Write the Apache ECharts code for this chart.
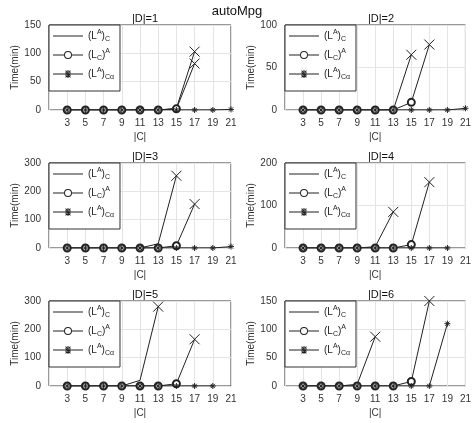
<!DOCTYPE html>
<html>
<head>
    <meta charset="utf-8">
    <title>autoMpg</title>
    <script src="https://cdn.jsdelivr.net/npm/echarts@6/dist/echarts.min.js"></script>
</head>
<body style="margin:0">
    <div id="main" style="width: 474px;height:423px;"></div>
    <script type="text/javascript">
        var dom = document.getElementById('main');
        var myChart = echarts.init(dom);

        // |C| values
        var cVals = [3, 5, 7, 9, 11, 13, 15, 17, 19, 21];
        var panelTitles = ['|D|=1', '|D|=2', '|D|=3', '|D|=4', '|D|=5', '|D|=6'];
        var yMax = [150, 100, 300, 200, 300, 150];
        var yStep = [50, 50, 100, 100, 100, 50];

        // (L^A)_C
        var s1 = [
            [0, 0, 0, 0, 0, 0, 3, 103],
            [0, 0, 0, 0, 0, 0, 65],
            [0, 0, 0, 0, 0, 15, 255],
            [0, 0, 0, 0, 3, 85],
            [0, 0, 0, 0, 20, 280],
            [0, 0, 0, 3, 87]
        ];
        // (L_C)^A
        var s2 = [
            [0, 0, 0, 0, 0, 0, 2, 82],
            [0, 0, 0, 0, 0, 0, 9, 77],
            [0, 0, 0, 0, 0, 0, 8, 155],
            [0, 0, 0, 0, 0, 0, 8, 155],
            [0, 0, 0, 0, 0, 0, 8, 165],
            [0, 0, 0, 0, 0, 0, 8, 150]
        ];
        // (L^A)_Ca
        var s3 = [
            [0, 0, 0, 0, 0, 0, 0, 0, 0, 1],
            [0, 0, 0, 0, 0, 0, 0, 0, 0, 2],
            [0, 0, 0, 0, 0, 0, 0, 0, 0, 5],
            [0, 0, 0, 0, 0, 0, 0, 0, 0],
            [0, 0, 0, 0, 0, 0, 0, 0, 0],
            [0, 0, 0, 0, 0, 0, 0, 0, 110]
        ];

        var ink = '#222';
        var crossPath = 'path://M-10,-10L10,10M-10,10L10,-10';
        var starPath = 'path://M0,-10L0,10M-10,0L10,0M-7,-7L7,7M-7,7L7,-7';
        var names = ['LAC', 'LCA', 'LACa'];
        var labels = {
            LAC: '(L{sup|A}){sub|C}',
            LCA: '(L{sub|C}){sup|A}',
            LACa: '(L{sup|A}){sub|Cα}'
        };
        var icons = {
            LAC: 'path://M0,4.5h30v1h-30z',
            LCA: 'path://M0,4.5h11v1h-11z M19,4.5h11v1h-11z M15,1a4,4 0 1,1 0,8a4,4 0 1,1 0,-8z M15,2a3,3 0 1,0 0,6a3,3 0 1,0 0,-6z',
            LACa: 'path://M0,4.5h30v1h-30z M14.5,1h1v8h-1z M12.2,2l0.7,-0.7l4.9,4.9l-0.7,0.7z M17.8,2l-0.7,-0.7l-4.9,4.9l0.7,0.7z M12.2,8l0.7,0.7l4.9,-4.9l-0.7,-0.7z M17.8,8l-0.7,0.7l-4.9,-4.9l0.7,-0.7z'
        };

        var lefts = [49, 285];
        var tops = [25, 163, 301];
        var gw = 182, gh = 85;

        var grids = [], xAxes = [], yAxes = [], series = [], titles = [], legends = [];
        titles.push({
            text: 'autoMpg', left: 'center', top: 0,
            textStyle: {fontSize: 13, fontWeight: 'normal', color: '#111', fontFamily: 'Liberation Sans'}
        });

        function pts(arr) {
            return arr.map(function (v, i) { return [cVals[i], v]; });
        }

        for (var p = 0; p < 6; p++) {
            var gl = lefts[p % 2], gt = tops[Math.floor(p / 2)];
            grids.push({left: gl, top: gt, width: gw, height: gh, show: true,
                borderColor: '#333', borderWidth: 1, backgroundColor: '#fff'});
            titles.push({
                text: panelTitles[p], left: gl + gw / 2, top: gt - 17, textAlign: 'center',
                textStyle: {fontSize: 11, fontWeight: 'normal', color: '#111', fontFamily: 'Liberation Sans'}
            });
            xAxes.push({
                type: 'value', gridIndex: p, min: 1, max: 21, interval: 2,
                name: '|C|', nameLocation: 'middle', nameGap: 22,
                nameTextStyle: {fontSize: 10, color: '#333'},
                axisLine: {show: false}, axisTick: {show: false},
                axisLabel: {fontSize: 10, color: '#333', formatter: function (v) { return v === 1 ? '' : v; }},
                splitLine: {show: true, lineStyle: {color: '#e4e4e4'}}
            });
            yAxes.push({
                type: 'value', gridIndex: p, min: 0, max: yMax[p], interval: yStep[p],
                name: 'Time(min)', nameLocation: 'middle', nameGap: 28,
                nameTextStyle: {fontSize: 10, color: '#333'},
                axisLine: {show: false}, axisTick: {show: false},
                axisLabel: {fontSize: 10, color: '#333'},
                splitLine: {show: true, lineStyle: {color: '#e4e4e4'}}
            });

            var d1 = pts(s1[p]);
            var d2 = pts(s2[p]).map(function (pt, i, a) {
                return i === a.length - 1 ? {value: pt, symbol: 'none'} : pt;
            });
            var last1 = d1[d1.length - 1];
            var last2 = pts(s2[p])[s2[p].length - 1];
            var mp = function (c) {
                return {symbol: crossPath, symbolSize: 10, silent: true, label: {show: false},
                    itemStyle: {color: 'none', borderColor: ink, borderWidth: 1},
                    data: [{coord: c}]};
            };
            series.push({
                name: 'LAC', type: 'line', xAxisIndex: p, yAxisIndex: p, data: d1,
                symbol: 'none', lineStyle: {color: ink, width: 1}, itemStyle: {color: ink},
                markPoint: mp(last1)
            });
            series.push({
                name: 'LCA', type: 'line', xAxisIndex: p, yAxisIndex: p, data: d2,
                symbol: 'emptyCircle', symbolSize: 7, showAllSymbol: true,
                lineStyle: {color: ink, width: 1}, itemStyle: {color: ink, borderWidth: 1},
                markPoint: mp(last2)
            });
            series.push({
                name: 'LACa', type: 'line', xAxisIndex: p, yAxisIndex: p, data: pts(s3[p]),
                symbol: starPath, symbolSize: 6, showAllSymbol: true,
                lineStyle: {color: ink, width: 1},
                itemStyle: {color: ink, borderColor: ink, borderWidth: 1}
            });
            legends.push({
                data: names.map(function (n) {
                    return {name: n, icon: icons[n], itemStyle: {color: ink, borderWidth: 0}};
                }),
                orient: 'vertical', left: gl, top: gt,
                backgroundColor: '#fff', borderColor: '#333', borderWidth: 1,
                padding: [4, 6, 10, 4], itemGap: 5, itemWidth: 30, itemHeight: 10,
                selectedMode: false,
                formatter: function (n) { return labels[n]; },
                textStyle: {
                    fontSize: 10, color: '#222',
                    rich: {
                        sup: {fontSize: 7, color: '#222', padding: [0, 0, 7, 0]},
                        sub: {fontSize: 7, color: '#222', padding: [7, 0, 0, 0]}
                    }
                }
            });
        }

        var option = {
            animation: false,
            textStyle: {fontFamily: 'Liberation Sans'},
            title: titles,
            legend: legends,
            grid: grids,
            xAxis: xAxes,
            yAxis: yAxes,
            series: series
        };

        myChart.setOption(option);
    </script>
</body>
</html>
